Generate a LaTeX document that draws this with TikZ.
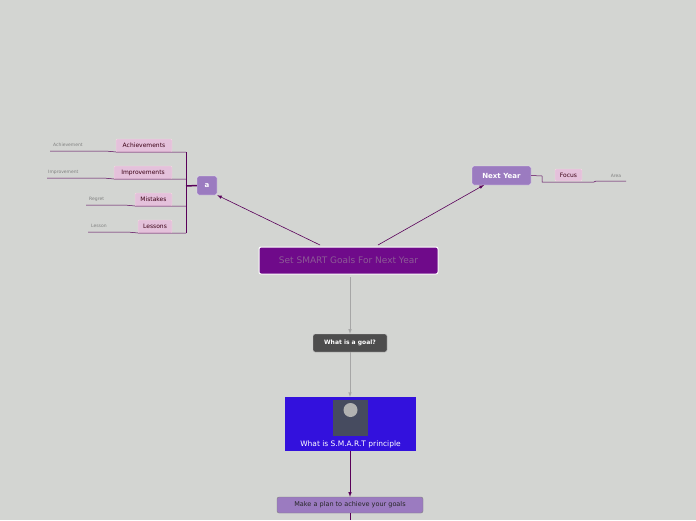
\documentclass[tikz,border=0pt]{standalone}
\usepackage{fontspec}
\setmainfont{DejaVu Sans}
\begin{document}
\begin{tikzpicture}[x=1pt,y=-1pt,
  sub/.style={draw=white!85!purple,fill=pink!40!violet!35,text=black!70!purple,font=\fontsize{6}{7}\selectfont,rounded corners=1pt,inner sep=0pt,minimum height=13pt},
  leaf/.style={text=gray,font=\fontsize{4.5}{5}\selectfont,inner sep=0pt},
  pln/.style={draw=violet!70!black,line width=0.5pt},
  arr/.style={draw=violet!70!black,line width=0.6pt,-latex},
  garr/.style={draw=gray!70,line width=0.6pt,-latex}]
\definecolor{bg}{HTML}{D3D5D2}
\definecolor{lav}{HTML}{9B7BC0}
\fill[bg] (0,0) rectangle (696,520);
\useasboundingbox (0,0) rectangle (696,520);
\node[fill={rgb,255:red,111;green,10;blue,138},draw=white,line width=1pt,rounded corners=2pt,minimum width=179pt,minimum height=27pt,text={rgb,255:red,140;green,90;blue,150},font=\fontsize{9}{10}\selectfont] (c) at (348.5,260.5) {Set SMART Goals For Next Year};
\node[fill=lav,draw=white!80!lav,rounded corners=2pt,minimum width=20pt,minimum height=19pt,text=white,font=\bfseries\fontsize{7}{8}\selectfont,inner sep=0pt] (a) at (207,185.5) {a};
\node[sub,minimum width=56pt] (s1) at (144,145.5) {Achievements};
\node[sub,minimum width=58pt] (s2) at (143,172.5) {Improvements};
\node[sub,minimum width=37pt] (s3) at (153.5,199.5) {Mistakes};
\node[sub,minimum width=34pt] (s4) at (155,226.5) {Lessons};
\node[leaf,anchor=west] (l1) at (53,145) {Achievement};
\node[leaf,anchor=west] (l2) at (48,172) {Improvement};
\node[leaf,anchor=west] (l3) at (89,199) {Regret};
\node[leaf,anchor=west] (l4) at (91,226) {Lesson};
\coordinate (br) at (186,186);
\foreach \i/\lx/\ly/\sx in {1/50/151/116,2/47/178/114,3/86/205/135,4/88/232/138}{
  \draw[pln] (\lx,\ly) -- (\sx-10,\ly) -- (\sx,\ly+1) -- (186,\ly+1);
}
\draw[pln] (186,152) -- (186,233);
\draw[pln,line width=1.5pt] (br) -- (a.west);
\node[fill=lav,draw=white!80!lav,rounded corners=2pt,minimum width=59pt,minimum height=19pt,text=white,font=\bfseries\fontsize{7}{8}\selectfont,inner sep=0pt] (n) at (501.5,175.5) {Next Year};
\node[sub,minimum width=27pt,minimum height=12pt] (f) at (568.5,175) {Focus};
\node[leaf] (ar) at (616,176) {Area};
\draw[pln] (n.east) -- (542,176) -- (542,182) -- (594,182) -- (596,181) -- (626,181);
\draw[arr] (320,245) -- (a.south east);
\draw[arr] (378,245) -- (484,185);
\node[fill={rgb,255:red,77;green,77;blue,77},draw=white!60!gray,rounded corners=2pt,minimum width=74pt,minimum height=18pt,text=white,font=\bfseries\fontsize{6}{7}\selectfont,inner sep=0pt] (g) at (350,343) {What is a goal?};
\draw[garr] (350,277) -- (g.north);
\node[fill={rgb,255:red,51;green,17;blue,221},minimum width=131pt,minimum height=54pt,inner sep=0pt] (s) at (350.5,424) {};
\node[fill={rgb,255:red,70;green,75;blue,95},minimum width=35pt,minimum height=36pt,inner sep=0pt] (img) at (350.5,418) {};
\fill[gray!60] (350.5,410) circle (7pt);
\node[text=white,font=\fontsize{7.5}{9}\selectfont,inner sep=0pt] (st) at (350.5,444) {What is S.M.A.R.T principle};
\draw[garr] (g.south) -- (350,397);
\node[fill=lav,draw=gray,rounded corners=2pt,minimum width=146pt,minimum height=16pt,text=black!85,font=\fontsize{6.5}{8}\selectfont,inner sep=0pt] (p) at (350,505) {Make a plan to achieve your goals};
\draw[arr] (350,451) -- (p.north);
\draw[pln,line width=0.8pt] (p.south) -- (350,520);
\end{tikzpicture}
\end{document}
